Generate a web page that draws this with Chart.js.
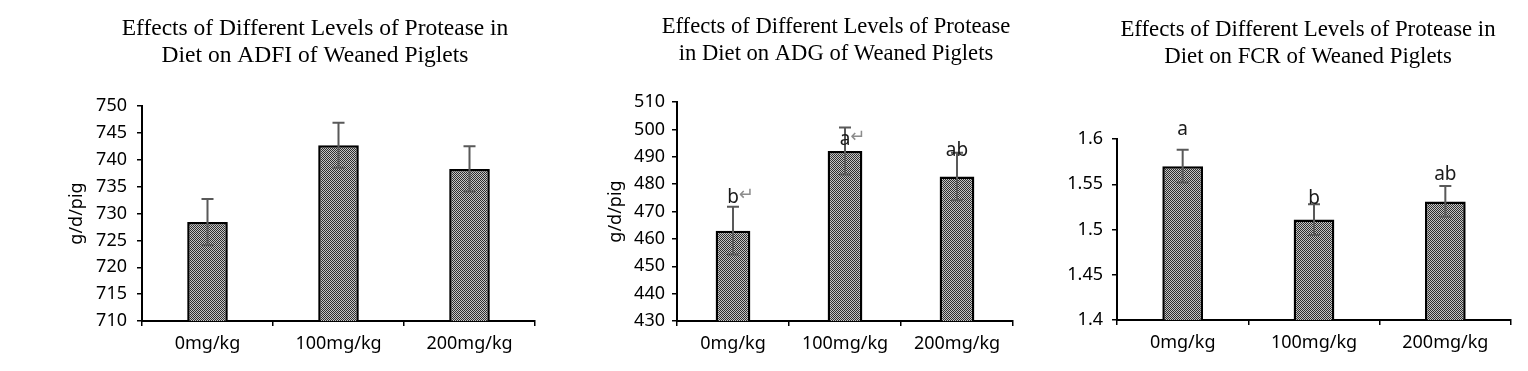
<!DOCTYPE html>
<html>
<head>
<meta charset="utf-8">
<script src="https://cdn.jsdelivr.net/npm/chart.js@4"></script>
<style>
  body { margin: 0; background: #fff; width: 1528px; height: 371px; position: relative; overflow: hidden; }
  canvas { position: absolute; top: 0; }
</style>
</head>
<body>
<canvas id="g1" width="560" height="371" style="left:0"></canvas>
<canvas id="g2" width="470" height="371" style="left:560px"></canvas>
<canvas id="g3" width="498" height="371" style="left:1030px"></canvas>
<script>
// Datos
const dosis = ["0mg/kg", "100mg/kg", "200mg/kg"];

const adfi = [728.4, 742.7, 738.3];
const adfiSd = [4.3, 4.2, 4.2];
const ticksAdfi = ["710", "715", "720", "725", "730", "735", "740", "745", "750"];

const adg = [463.0, 492.1, 482.8];
const adgSd = [8.7, 8.6, 8.7];
const adgLetras = ["b↵", "a↵", "ab"];
const adgLetrasY = [473.1, 494.4, 490.1];
const ticksAdg = ["430", "440", "450", "460", "470", "480", "490", "500", "510"];

const fcr = [1.570, 1.511, 1.531];
const fcrSd = [0.018, 0.017, 0.017];
const fcrLetras = ["a", "b", "ab"];
const fcrLetrasY = [1.604, 1.528, 1.555];
const ticksFcr = ["1.4", "1.45", "1.5", "1.55", "1.6"];

const fuente = '"Noto Sans", "DejaVu Sans", sans-serif';

// Relleno punteado tipo Excel (tablero de 1px)
function crearTrama() {
  const c = document.createElement("canvas");
  c.width = 2; c.height = 2;
  const x = c.getContext("2d");
  x.fillStyle = "#c4c4c4"; x.fillRect(0, 0, 2, 2);
  x.fillStyle = "#2e2e2e"; x.fillRect(0, 0, 1, 1); x.fillRect(1, 1, 1, 1);
  return x.createPattern(c, "repeat");
}

// Barras de error y letras de significancia
const barrasError = {
  id: "barrasError",
  afterDatasetsDraw(chart, args, opts) {
    const ctx = chart.ctx;
    const y = chart.scales.y;
    const valores = chart.data.datasets[0].data;
    const meta = chart.getDatasetMeta(0);
    ctx.save();
    ctx.strokeStyle = "#595959";
    ctx.lineWidth = 2;
    meta.data.forEach((bar, i) => {
      const arriba = y.getPixelForValue(valores[i] + opts.sd[i]);
      const abajo = y.getPixelForValue(valores[i] - opts.sd[i]);
      ctx.beginPath();
      ctx.moveTo(bar.x, arriba); ctx.lineTo(bar.x, abajo);
      ctx.moveTo(bar.x - 6, arriba); ctx.lineTo(bar.x + 6, arriba);
      ctx.moveTo(bar.x - 6, abajo); ctx.lineTo(bar.x + 6, abajo);
      ctx.stroke();
    });
    if (opts.letras) {
      meta.data.forEach((bar, i) => {
        const txt = opts.letras[i].replace("↵", "");
        const yy = y.getPixelForValue(opts.letrasY[i]);
        ctx.font = "19px " + fuente;
        ctx.textBaseline = "alphabetic";
        ctx.fillStyle = "#1a1a1a";
        ctx.textAlign = "center";
        ctx.fillText(txt, bar.x, yy);
        if (opts.letras[i].includes("↵")) {
          const w = ctx.measureText(txt).width;
          ctx.fillStyle = "#8c8c8c";
          ctx.textAlign = "left";
          ctx.font = "18px " + fuente;
          ctx.fillText("↵", bar.x + w / 2, yy - 3);
        }
      });
    }
    ctx.restore();
  }
};

// Título en dos líneas centrado donde está en la figura
const tituloCentrado = {
  id: "tituloCentrado",
  afterDraw(chart, args, opts) {
    const ctx = chart.ctx;
    ctx.save();
    ctx.font = opts.size + 'px "Liberation Serif", "Times New Roman", serif';
    ctx.fillStyle = "#000";
    ctx.textAlign = "center";
    ctx.textBaseline = "middle";
    opts.lineas.forEach((t, i) => ctx.fillText(t, opts.x, opts.y + i * 27));
    ctx.restore();
  }
};

function crearGrafica(id, cfg) {
  const ctx = document.getElementById(id).getContext("2d");
  new Chart(ctx, {
    type: "bar",
    data: {
      labels: dosis,
      datasets: [{
        data: cfg.valores,
        backgroundColor: crearTrama(),
        borderColor: "#000",
        borderWidth: 2.5,
        barPercentage: 0.31,
        categoryPercentage: 1,
      }],
    },
    plugins: [barrasError, tituloCentrado],
    options: {
      responsive: false,
      animation: false,
      layout: { padding: { left: 0, top: cfg.arriba, right: cfg.derecha, bottom: 0 } },
      scales: {
        x: {
          afterFit: (s) => { s.height = cfg.altoX; },
          grid: { display: true, drawOnChartArea: false, drawTicks: true, tickLength: 5, color: "#000", lineWidth: 1.5 },
          border: { display: true, color: "#000", width: 2 },
          ticks: { color: "#000", font: { family: fuente, size: 18 }, padding: 7 },
        },
        y: {
          min: cfg.min,
          max: cfg.max,
          afterFit: (s) => { s.width = cfg.anchoY; },
          grid: { display: true, drawOnChartArea: false, drawTicks: true, tickLength: 5, color: "#000", lineWidth: 1.5 },
          border: { display: true, color: "#000", width: 2 },
          ticks: {
            stepSize: cfg.paso,
            color: "#000",
            font: { family: fuente, size: 18 },
            padding: cfg.padTicks,
            callback: (v, i) => cfg.etiquetas[i],
          },
          title: {
            display: !!cfg.tituloY,
            text: cfg.tituloY || "",
            color: "#000",
            font: { family: fuente, size: 18 },
            padding: { top: cfg.padTituloY, bottom: 0 },
          },
        },
      },
      plugins: {
        legend: { display: false },
        tooltip: { enabled: false },
        barrasError: { sd: cfg.sd, letras: cfg.letras, letrasY: cfg.letrasY },
        tituloCentrado: { lineas: cfg.titulo, x: cfg.tituloX, y: cfg.tituloTop, size: cfg.tituloSize },
      },
    },
  });
}

crearGrafica("g1", {
  valores: adfi, sd: adfiSd, etiquetas: ticksAdfi,
  min: 710, max: 750, paso: 5,
  arriba: 106, derecha: 25, anchoY: 142, altoX: 50, padTicks: 10,
  tituloY: "g/d/pig", padTituloY: 66,
  titulo: ["Effects of Different Levels of Protease in", "Diet on ADFI of Weaned Piglets"],
  tituloX: 315, tituloTop: 29, tituloSize: 23.5,
});

crearGrafica("g2", {
  valores: adg, sd: adgSd, etiquetas: ticksAdg, letras: adgLetras, letrasY: adgLetrasY,
  min: 430, max: 510, paso: 10,
  arriba: 102, derecha: 17, anchoY: 117, altoX: 50, padTicks: 7,
  tituloY: "g/d/pig", padTituloY: 45,
  titulo: ["Effects of Different Levels of Protease", "in Diet on ADG of Weaned Piglets"],
  tituloX: 276, tituloTop: 27, tituloSize: 22.6,
});

crearGrafica("g3", {
  valores: fcr, sd: fcrSd, etiquetas: ticksFcr, letras: fcrLetras, letrasY: fcrLetrasY,
  min: 1.4, max: 1.6, paso: 0.05,
  arriba: 139, derecha: 17, anchoY: 87, altoX: 51, padTicks: 9,
  titulo: ["Effects of Different Levels of Protease in", "Diet on FCR of Weaned Piglets"],
  tituloX: 278, tituloTop: 30, tituloSize: 22.8,
});
</script>
</body>
</html>
